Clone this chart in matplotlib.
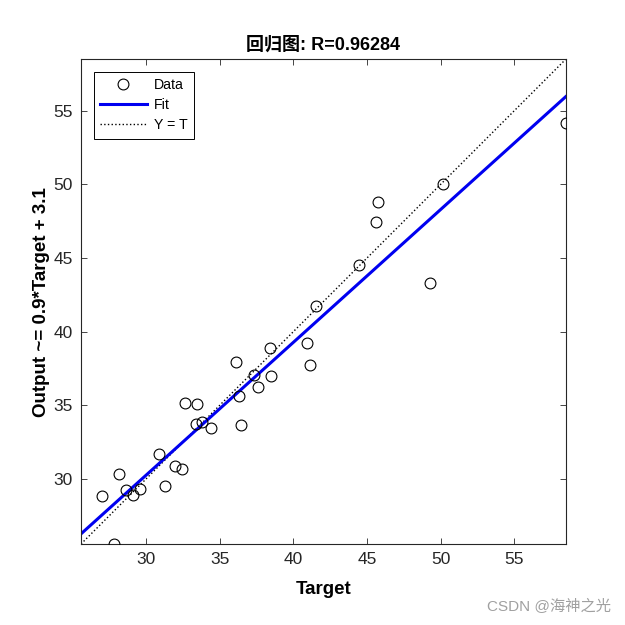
import numpy as np
import matplotlib
matplotlib.use("Agg")
import matplotlib.pyplot as plt

plt.rcParams['font.family'] = ['Liberation Sans', 'Noto Sans CJK SC', 'DejaVu Sans']

# 数据
target = [27.03, 27.84, 28.18, 28.63, 29.14, 29.58, 30.90, 31.30, 31.99, 32.42,
          32.67, 33.49, 33.40, 33.83, 34.40, 36.14, 36.30, 36.45, 37.32, 37.64,
          38.39, 38.52, 40.95, 41.11, 41.52, 44.44, 45.62, 45.77, 49.27, 50.18,
          58.50]
output = [28.87, 25.59, 30.36, 29.26, 28.94, 29.32, 31.70, 29.56, 30.90, 30.68,
          35.16, 35.08, 33.74, 33.87, 33.47, 37.95, 35.63, 33.64, 37.06, 36.25,
          38.90, 36.99, 39.27, 37.74, 41.75, 44.51, 47.45, 48.80, 43.31, 50.03,
          54.16]

title_text = '回归图: R=0.96284'
ylabel_text = 'Output ~= 0.9*Target + 3.1'
xlabel_text = 'Target'
ticks = [30, 35, 40, 45, 50, 55]


def draw_image():
    t = np.array(target)
    y = np.array(output)
    lo = min(t.min(), y.min())
    hi = max(t.max(), y.max())

    fig = plt.figure(figsize=(6.25, 6.25), dpi=100)
    ax = fig.add_axes([0.1296, 0.1296, 0.7755, 0.7755])

    # 拟合直线
    k, b = np.polyfit(t, y, 1)
    xx = np.array([lo, hi])
    ax.plot(t, y, 'o', mfc='none', mec='black', ms=7.8, mew=0.8, label='Data', zorder=3)
    ax.plot(xx, k * xx + b, color='#0000f0', lw=2.2, label='Fit', zorder=2)
    ax.plot(xx, xx, ':', color='black', lw=1.0, label='Y = T', zorder=1)

    ax.set_xlim(lo, hi)
    ax.set_ylim(lo, hi)
    ax.set_xticks(ticks)
    ax.set_yticks(ticks)
    ax.tick_params(direction='in', top=True, right=True, length=4, width=0.6,
                   labelsize=12.5, colors='#262626', pad=6)
    for s in ax.spines.values():
        s.set_linewidth(0.8)
        s.set_color('#262626')

    ax.set_title(title_text, fontsize=13, fontweight='bold', pad=7)
    ax.set_xlabel(xlabel_text, fontsize=13.5, fontweight='bold', labelpad=10)
    ax.set_ylabel(ylabel_text, fontsize=13.5, fontweight='bold', labelpad=2)

    leg = ax.legend(loc='upper left', bbox_to_anchor=(0.026, 0.974), fontsize=10.2,
                    fancybox=False, edgecolor='black', framealpha=1,
                    handlelength=3.3, handletextpad=0.5, borderpad=0.45,
                    labelspacing=0.42, borderaxespad=0)
    leg.get_frame().set_linewidth(0.7)

    fig.text(0.978, 0.03, 'CSDN @海神之光', ha='right', va='center',
             fontsize=11, color='#a0a0a0')

    fig.savefig('out.png', dpi=100)


if __name__ == '__main__':
    draw_image()
